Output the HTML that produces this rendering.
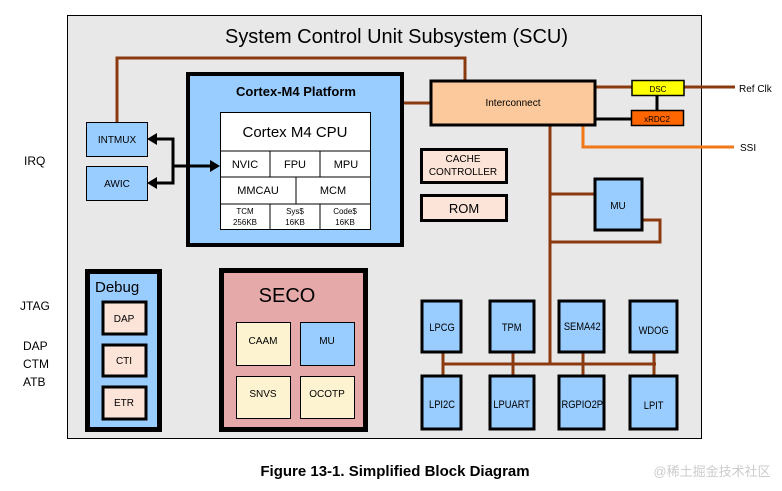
<!DOCTYPE html>
<html><head><meta charset="utf-8"><style>body{margin:0;background:#fff}svg{display:block}text{font-family:"Liberation Sans",sans-serif}</style></head>
<body>
<svg width="782" height="491" viewBox="0 0 782 491" xmlns="http://www.w3.org/2000/svg">
<rect x="67.5" y="15.5" width="634" height="423" fill="#e8e8e8" stroke="#000" stroke-width="1"/>
<text x="225" y="43" font-size="20" textLength="343" lengthAdjust="spacingAndGlyphs">System Control Unit  Subsystem (SCU)</text>
<g stroke="#8b3a0f" stroke-width="3" fill="none">
<polyline points="117,122 117,58 465,58 465,80"/>
<line x1="404" y1="103" x2="430" y2="103"/>
<line x1="596" y1="87" x2="632" y2="87"/>
<line x1="684" y1="87" x2="735" y2="87"/>
<line x1="550" y1="126" x2="550" y2="364"/>
<line x1="550" y1="194" x2="594" y2="194"/>
<polyline points="643,220 660,220 660,242 550,242"/>
<line x1="443" y1="364" x2="656" y2="364"/>
<line x1="443" y1="353" x2="443" y2="375"/>
<line x1="513" y1="353" x2="513" y2="375"/>
<line x1="583" y1="353" x2="583" y2="375"/>
<line x1="654" y1="353" x2="654" y2="375"/>
</g>
<polyline points="583,126 583,147 734,147" stroke="#f07818" stroke-width="3" fill="none"/>
<g stroke="#000" stroke-width="3">
<line x1="596" y1="119" x2="631" y2="119"/>
<line x1="657" y1="96" x2="657" y2="110"/>
</g>
<rect x="431" y="81" width="164" height="44" fill="#fbc99b" stroke="#000" stroke-width="3"/>
<text x="513" y="106" font-size="10" text-anchor="middle">Interconnect</text>
<rect x="632" y="80.5" width="52" height="15" fill="#ffff00" stroke="#000" stroke-width="1.5"/>
<text x="658" y="92" font-size="8" text-anchor="middle">DSC</text>
<rect x="631.5" y="110.5" width="52" height="15" fill="#ff6600" stroke="#000" stroke-width="1.5"/>
<text x="657" y="122" font-size="8" text-anchor="middle">xRDC2</text>
<text x="739" y="92" font-size="10">Ref Clk</text>
<text x="740" y="151" font-size="10">SSI</text>
<rect x="188" y="74" width="214" height="171" fill="#99ccff" stroke="#000" stroke-width="4"/>
<text x="296" y="96" font-size="13" font-weight="bold" text-anchor="middle">Cortex-M4 Platform</text>
<g fill="#fff" stroke="#000" stroke-width="1">
<rect x="220.5" y="112.5" width="150" height="117"/>
<line x1="220" y1="151" x2="371" y2="151"/>
<line x1="220" y1="177" x2="371" y2="177"/>
<line x1="220" y1="204" x2="371" y2="204"/>
<line x1="270" y1="151" x2="270" y2="177"/><line x1="320" y1="151" x2="320" y2="177"/>
<line x1="296" y1="177" x2="296" y2="204"/>
<line x1="270" y1="204" x2="270" y2="230"/><line x1="320" y1="204" x2="320" y2="230"/>
</g>
<text x="295" y="137" font-size="15" text-anchor="middle">Cortex M4 CPU</text>
<g font-size="11" text-anchor="middle">
<text x="245" y="168">NVIC</text><text x="295" y="168">FPU</text><text x="346" y="168">MPU</text>
<text x="258" y="194">MMCAU</text><text x="333" y="194">MCM</text>
</g>
<g font-size="8" text-anchor="middle">
<text x="245" y="214">TCM</text><text x="245" y="225">256KB</text>
<text x="295" y="214">Sys$</text><text x="295" y="225">16KB</text>
<text x="345" y="214">Code$</text><text x="345" y="225">16KB</text>
</g>
<rect x="86.5" y="122.5" width="61" height="34" fill="#99ccff" stroke="#000" stroke-width="1"/>
<text x="117" y="143" font-size="10" text-anchor="middle">INTMUX</text>
<rect x="86.5" y="166.5" width="61" height="34" fill="#99ccff" stroke="#000" stroke-width="1"/>
<text x="117" y="187" font-size="10" text-anchor="middle">AWIC</text>
<g stroke="#000" stroke-width="3" fill="none">
<polyline points="154,139 173,139 173,183 154,183"/>
<line x1="173" y1="166" x2="212" y2="166"/>
</g>
<polygon points="147,139 157,133 157,145" fill="#000"/>
<polygon points="147,183 157,177 157,189" fill="#000"/>
<polygon points="220,166 210,160 210,172" fill="#000"/>
<text x="24" y="165" font-size="12">IRQ</text>
<text x="20" y="310" font-size="12">JTAG</text>
<text x="23" y="350" font-size="12">DAP</text>
<text x="23" y="368" font-size="12">CTM</text>
<text x="23" y="386" font-size="12">ATB</text>
<rect x="421.5" y="149.5" width="85" height="33" fill="#fde4d8" stroke="#000" stroke-width="3"/>
<text x="463" y="162" font-size="10" text-anchor="middle">CACHE</text>
<text x="463" y="175" font-size="10" text-anchor="middle">CONTROLLER</text>
<rect x="421.5" y="195.5" width="85" height="25" fill="#fde4d8" stroke="#000" stroke-width="3"/>
<text x="464" y="213" font-size="13" text-anchor="middle">ROM</text>
<rect x="595" y="179" width="47" height="51" fill="#99ccff" stroke="#000" stroke-width="3"/>
<text x="618" y="209" font-size="10" text-anchor="middle">MU</text>
<g fill="#99ccff" stroke="#000" stroke-width="3">
<rect x="422" y="301" width="39" height="51"/><rect x="490" y="301" width="44" height="51"/>
<rect x="559" y="301" width="45" height="51"/><rect x="630" y="301" width="47" height="51"/>
<rect x="422" y="376" width="39" height="53"/><rect x="490" y="376" width="44" height="53"/>
<rect x="559" y="376" width="45" height="53"/><rect x="630" y="376" width="47" height="53"/>
</g>
<g font-size="11" text-anchor="middle" transform="scale(0.85,1)">
<text x="520" y="331">LPCG</text><text x="602" y="331">TPM</text><text x="685" y="330">SEMA42</text><text x="769" y="334">WDOG</text>
<text x="520" y="408">LPI2C</text><text x="602" y="408">LPUART</text><text x="685" y="408">RGPIO2P</text><text x="769" y="409">LPIT</text>
</g>
<rect x="87.5" y="271.5" width="72" height="158" fill="#99ccff" stroke="#000" stroke-width="5"/>
<text x="95" y="292" font-size="15">Debug</text>
<g fill="#fde4d8" stroke="#000" stroke-width="3">
<rect x="103" y="302" width="43" height="32"/><rect x="103" y="345" width="43" height="31"/><rect x="103" y="387" width="43" height="32"/>
</g>
<g font-size="10" text-anchor="middle"><text x="124" y="322">DAP</text><text x="124" y="364">CTI</text><text x="124" y="406">ETR</text></g>
<rect x="221.5" y="270.5" width="144" height="159" fill="#e6a9a9" stroke="#000" stroke-width="5"/>
<text x="287" y="302" font-size="20" text-anchor="middle">SECO</text>
<g stroke="#000" stroke-width="1">
<rect x="236.5" y="322.5" width="54" height="43" fill="#fdf3d0"/>
<rect x="300.5" y="322.5" width="54" height="43" fill="#99ccff"/>
<rect x="236.5" y="376.5" width="54" height="42" fill="#fdf3d0"/>
<rect x="300.5" y="376.5" width="54" height="42" fill="#fdf3d0"/>
</g>
<g font-size="10" text-anchor="middle"><text x="263" y="344">CAAM</text><text x="327" y="344">MU</text><text x="263" y="397">SNVS</text><text x="327" y="397">OCOTP</text></g>
<text x="395" y="476" font-size="15" font-weight="bold" text-anchor="middle">Figure 13-1. Simplified Block Diagram</text>
<text x="712" y="476" font-size="13" fill="#ccc" text-anchor="middle" style="font-family:'Liberation Sans','Noto Sans CJK SC',sans-serif">@稀土掘金技术社区</text>
</svg>
</body></html>
